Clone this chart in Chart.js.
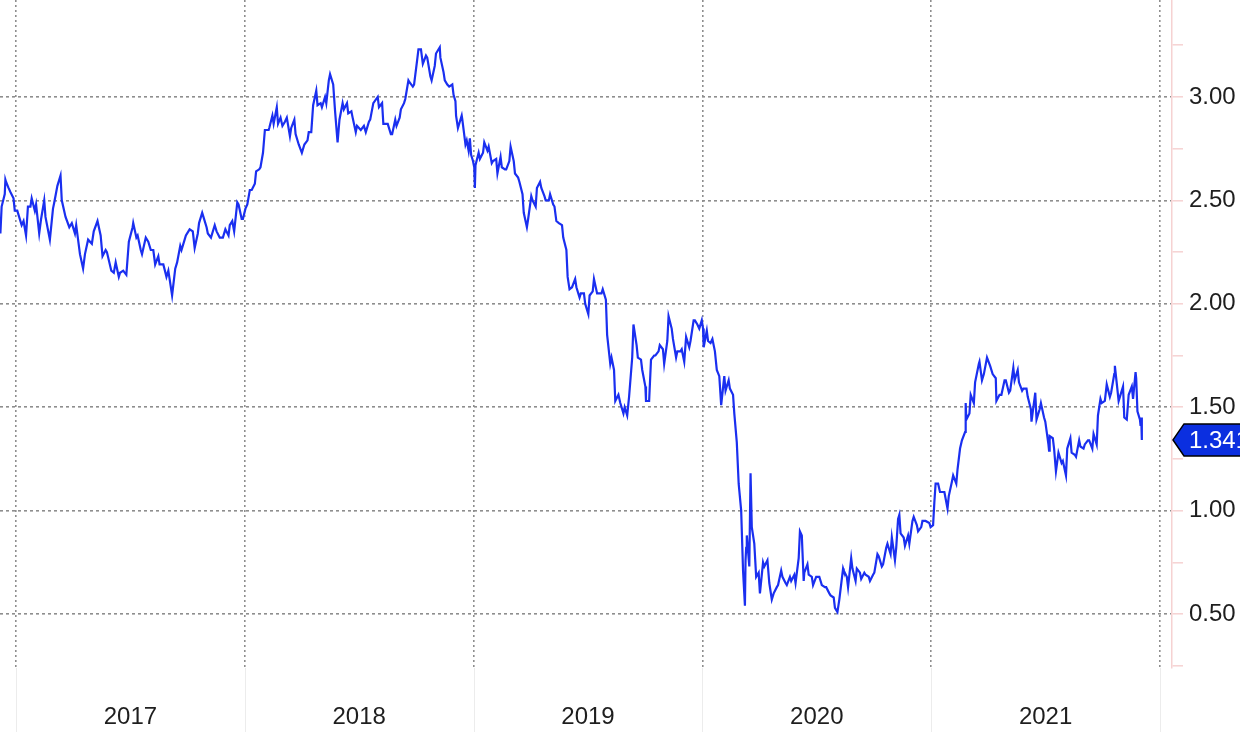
<!DOCTYPE html>
<html>
<head>
<meta charset="utf-8">
<script src="https://cdn.jsdelivr.net/npm/chart.js@4.4.1/dist/chart.umd.min.js"></script>
<style>
html,body{margin:0;padding:0;background:#fff;}
canvas{display:block;}
</style>
</head>
<body>
<canvas id="c" width="1240" height="732"></canvas>
<script>
// ---- DATA: US 10-year yield, [month, day, value] per calendar year ----
const d2016 = [[12,5,2.39],[12,7,2.34],[12,9,2.47],[12,14,2.53],[12,15,2.60],[12,16,2.59],[12,20,2.56],[12,23,2.54],[12,28,2.51],[12,30,2.45]];
const d2017 = [[1,3,2.45],[1,6,2.42],[1,10,2.38],[1,13,2.40],[1,17,2.33],[1,20,2.47],[1,24,2.47],[1,26,2.51],[1,31,2.45],[2,2,2.48],[2,7,2.34],[2,10,2.41],[2,15,2.50],[2,17,2.42],[2,24,2.31],[3,1,2.46],[3,3,2.49],[3,8,2.57],[3,13,2.62],[3,15,2.50],[3,21,2.42],[3,27,2.37],[3,31,2.39],[4,5,2.34],[4,7,2.38],[4,13,2.24],[4,18,2.17],[4,21,2.24],[4,26,2.31],[5,2,2.29],[5,5,2.35],[5,11,2.40],[5,16,2.33],[5,19,2.23],[5,24,2.26],[5,26,2.25],[6,2,2.16],[6,6,2.15],[6,9,2.20],[6,14,2.13],[6,16,2.15],[6,21,2.16],[6,26,2.14],[6,30,2.30],[7,6,2.37],[7,7,2.39],[7,12,2.32],[7,14,2.33],[7,19,2.26],[7,21,2.24],[7,27,2.32],[7,31,2.30],[8,4,2.26],[8,8,2.26],[8,11,2.19],[8,16,2.23],[8,18,2.19],[8,24,2.19],[8,29,2.13],[9,1,2.16],[9,7,2.04],[9,12,2.17],[9,15,2.20],[9,20,2.28],[9,22,2.26],[9,27,2.31],[9,29,2.33],[10,5,2.36],[10,10,2.35],[10,13,2.27],[10,18,2.34],[10,20,2.39],[10,25,2.44],[10,27,2.42],[11,1,2.37],[11,3,2.34],[11,8,2.32],[11,14,2.38],[11,17,2.35],[11,22,2.32],[11,27,2.32],[12,1,2.36],[12,6,2.33],[12,8,2.38],[12,12,2.40],[12,15,2.35],[12,20,2.49],[12,22,2.48],[12,27,2.41],[12,29,2.41]];
const d2018 = [[1,2,2.46],[1,5,2.48],[1,9,2.55],[1,12,2.55],[1,17,2.58],[1,19,2.64],[1,24,2.65],[1,26,2.66],[1,30,2.73],[2,2,2.84],[2,8,2.84],[2,9,2.85],[2,14,2.91],[2,16,2.87],[2,21,2.95],[2,23,2.87],[2,27,2.90],[3,2,2.86],[3,6,2.88],[3,9,2.90],[3,14,2.81],[3,16,2.85],[3,21,2.89],[3,23,2.82],[3,28,2.77],[4,2,2.73],[4,6,2.77],[4,11,2.79],[4,13,2.83],[4,17,2.83],[4,20,2.96],[4,25,3.03],[4,27,2.96],[5,2,2.97],[5,4,2.95],[5,9,3.00],[5,11,2.97],[5,15,3.08],[5,17,3.11],[5,22,3.06],[5,25,2.93],[5,29,2.78],[6,1,2.89],[6,6,2.97],[6,8,2.94],[6,13,2.97],[6,15,2.92],[6,20,2.93],[6,22,2.90],[6,27,2.83],[6,29,2.86],[7,5,2.84],[7,10,2.86],[7,13,2.83],[7,18,2.88],[7,20,2.89],[7,25,2.97],[8,1,3.00],[8,3,2.95],[8,8,2.97],[8,10,2.87],[8,15,2.87],[8,17,2.87],[8,22,2.82],[8,24,2.82],[8,29,2.89],[8,31,2.86],[9,5,2.90],[9,7,2.94],[9,12,2.97],[9,14,2.99],[9,19,3.08],[9,21,3.07],[9,26,3.05],[9,28,3.06],[10,3,3.18],[10,5,3.23],[10,9,3.23],[10,12,3.16],[10,17,3.20],[10,19,3.19],[10,24,3.10],[10,26,3.08],[10,31,3.15],[11,2,3.21],[11,8,3.24],[11,9,3.19],[11,14,3.12],[11,16,3.08],[11,20,3.06],[11,23,3.05],[11,28,3.06],[11,30,3.01],[12,3,2.98],[12,4,2.91],[12,7,2.85],[12,13,2.91],[12,14,2.89],[12,19,2.77],[12,21,2.79],[12,24,2.74],[12,26,2.80],[12,28,2.72],[12,31,2.69]];
const d2019 = [[1,2,2.66],[1,3,2.56],[1,4,2.67],[1,9,2.73],[1,11,2.70],[1,16,2.73],[1,18,2.78],[1,23,2.74],[1,25,2.76],[1,30,2.68],[2,1,2.69],[2,6,2.70],[2,8,2.63],[2,13,2.71],[2,15,2.66],[2,20,2.65],[2,22,2.65],[2,27,2.69],[3,1,2.76],[3,6,2.69],[3,8,2.63],[3,13,2.61],[3,15,2.59],[3,20,2.53],[3,22,2.44],[3,27,2.37],[3,29,2.41],[4,3,2.52],[4,5,2.50],[4,10,2.47],[4,12,2.56],[4,17,2.59],[4,19,2.56],[4,24,2.52],[4,26,2.50],[5,1,2.50],[5,3,2.53],[5,8,2.48],[5,10,2.47],[5,13,2.40],[5,17,2.39],[5,22,2.38],[5,24,2.32],[5,29,2.26],[5,31,2.13],[6,3,2.07],[6,7,2.08],[6,12,2.12],[6,14,2.08],[6,19,2.03],[6,21,2.05],[6,26,2.05],[6,28,2.00],[7,3,1.95],[7,5,2.04],[7,10,2.06],[7,12,2.12],[7,17,2.05],[7,19,2.05],[7,24,2.05],[7,26,2.07],[7,31,2.02],[8,2,1.85],[8,7,1.71],[8,9,1.74],[8,13,1.68],[8,15,1.53],[8,20,1.56],[8,23,1.52],[8,28,1.47],[8,30,1.50],[9,3,1.46],[9,6,1.55],[9,11,1.74],[9,13,1.90],[9,18,1.80],[9,20,1.74],[9,25,1.73],[9,27,1.68],[10,2,1.60],[10,3,1.53],[10,8,1.53],[10,11,1.73],[10,16,1.75],[10,18,1.75],[10,23,1.77],[10,25,1.80],[10,30,1.78],[11,1,1.71],[11,6,1.82],[11,8,1.94],[11,13,1.88],[11,15,1.83],[11,20,1.74],[11,22,1.77],[11,27,1.77],[11,29,1.78],[12,3,1.72],[12,6,1.84],[12,11,1.79],[12,13,1.82],[12,18,1.92],[12,20,1.92],[12,24,1.90],[12,27,1.88],[12,31,1.92]];
const d2020 = [[1,2,1.88],[1,3,1.79],[1,8,1.87],[1,10,1.82],[1,14,1.81],[1,17,1.83],[1,21,1.77],[1,24,1.68],[1,28,1.65],[1,31,1.51],[2,5,1.65],[2,7,1.58],[2,12,1.63],[2,14,1.59],[2,19,1.56],[2,21,1.47],[2,25,1.33],[2,28,1.13],[3,3,1.00],[3,6,0.71],[3,9,0.54],[3,10,0.76],[3,11,0.82],[3,12,0.88],[3,16,0.73],[3,18,1.18],[3,20,0.92],[3,24,0.84],[3,27,0.68],[3,31,0.70],[4,2,0.60],[4,7,0.75],[4,9,0.73],[4,14,0.76],[4,17,0.65],[4,21,0.57],[4,24,0.60],[4,29,0.63],[5,1,0.64],[5,6,0.71],[5,8,0.68],[5,13,0.65],[5,15,0.64],[5,20,0.68],[5,22,0.66],[5,27,0.69],[5,29,0.65],[6,3,0.77],[6,5,0.90],[6,8,0.88],[6,11,0.66],[6,12,0.70],[6,17,0.74],[6,19,0.69],[6,24,0.68],[6,26,0.64],[7,1,0.68],[7,6,0.68],[7,10,0.64],[7,15,0.63],[7,17,0.63],[7,22,0.60],[7,24,0.59],[7,29,0.58],[7,31,0.53],[8,4,0.51],[8,7,0.57],[8,13,0.72],[8,14,0.71],[8,19,0.68],[8,21,0.63],[8,26,0.77],[8,28,0.72],[9,2,0.66],[9,4,0.72],[9,9,0.70],[9,11,0.67],[9,16,0.70],[9,18,0.69],[9,23,0.68],[9,25,0.66],[9,30,0.69],[10,2,0.70],[10,7,0.79],[10,9,0.78],[10,14,0.73],[10,16,0.74],[10,21,0.82],[10,23,0.84],[10,28,0.79],[10,30,0.87],[11,4,0.76],[11,6,0.82],[11,9,0.96],[11,11,0.98],[11,13,0.89],[11,18,0.87],[11,20,0.83],[11,25,0.88],[11,27,0.84],[12,2,0.95],[12,4,0.97],[12,9,0.93],[12,11,0.90],[12,16,0.92],[12,18,0.95],[12,23,0.95],[12,29,0.94],[12,31,0.92]];
const d2021 = [[1,4,0.93],[1,6,1.04],[1,8,1.13],[1,12,1.13],[1,15,1.09],[1,20,1.09],[1,22,1.09],[1,27,1.01],[1,29,1.07],[2,3,1.14],[2,5,1.17],[2,10,1.13],[2,12,1.20],[2,16,1.30],[2,19,1.34],[2,24,1.38],[2,25,1.52],[2,26,1.44],[3,3,1.47],[3,5,1.56],[3,10,1.52],[3,12,1.62],[3,18,1.71],[3,19,1.72],[3,23,1.63],[3,26,1.66],[3,31,1.74],[4,5,1.70],[4,9,1.66],[4,14,1.64],[4,15,1.53],[4,20,1.56],[4,23,1.56],[4,28,1.63],[4,30,1.63],[5,5,1.57],[5,7,1.58],[5,12,1.69],[5,14,1.63],[5,19,1.68],[5,21,1.62],[5,26,1.58],[5,28,1.59],[6,2,1.59],[6,4,1.55],[6,9,1.49],[6,10,1.43],[6,16,1.57],[6,18,1.44],[6,23,1.49],[6,25,1.52],[6,30,1.45],[7,2,1.43],[7,7,1.32],[7,8,1.29],[7,9,1.36],[7,14,1.35],[7,16,1.30],[7,19,1.19],[7,23,1.28],[7,28,1.23],[7,30,1.24],[8,4,1.17],[8,6,1.30],[8,11,1.35],[8,13,1.28],[8,18,1.27],[8,20,1.26],[8,25,1.34],[8,27,1.31],[9,1,1.30],[9,3,1.32],[9,8,1.34],[9,10,1.34],[9,15,1.30],[9,17,1.37],[9,22,1.32],[9,24,1.46],[9,28,1.54],[9,30,1.52],[10,5,1.53],[10,8,1.61],[10,13,1.55],[10,15,1.57],[10,20,1.66],[10,21,1.70],[10,27,1.53],[10,29,1.55],[11,3,1.60],[11,5,1.45],[11,9,1.44],[11,12,1.56],[11,17,1.60],[11,19,1.54],[11,23,1.67],[11,24,1.64],[11,26,1.48],[11,30,1.44],[12,1,1.41],[12,2,1.45],[12,3,1.3417]];

const yearBlocks = [[2016,d2016],[2017,d2017],[2018,d2018],[2019,d2019],[2020,d2020],[2021,d2021]];

// axis categories / tick labels
const yearLabels = ['2017','2018','2019','2020','2021'];
const yearBoundaries = [2017,2018,2019,2020,2021,2022];
const yTickValues = [0.25,0.50,0.75,1.00,1.25,1.50,1.75,2.00,2.25,2.50,2.75,3.00,3.25];
const yLabelled = [0.50,1.00,1.50,2.00,2.50,3.00];
const xRange = [2016.930, 2022.0524];
const yRange = [0.2391, 3.4686];

// ---- build points ----
function fracYear(y,m,d){
  const s = Date.UTC(y,0,1), e = Date.UTC(y+1,0,1);
  return y + (Date.UTC(y,m-1,d) - s) / (e - s);
}
const points = [];
yearBlocks.forEach(([yr,arr]) => arr.forEach(([m,d,v]) => points.push({x: fracYear(yr,m,d), y: v})));

const GRID = '#8e8e8e';
const PINK = '#f6d2d2';
const FONT = "'Liberation Sans', Arial, sans-serif";

const isInt = v => Math.abs(v - Math.round(v)) < 1e-6;
const isLabelled = v => yLabelled.some(t => Math.abs(t - v) < 1e-6);
function zeroPad(scale){
  scale.paddingLeft = 0; scale.paddingRight = 0; scale.paddingTop = 0; scale.paddingBottom = 0;
}

const extras = {
  id: 'extras',
  beforeDraw(chart){
    const {ctx, scales:{x}, chartArea} = chart;
    ctx.save();
    ctx.strokeStyle = '#ececec';
    ctx.lineWidth = 1;
    yearBoundaries.forEach(b => {
      const px = Math.round(x.getPixelForValue(b)) + 0.5;
      ctx.beginPath(); ctx.moveTo(px, chartArea.bottom); ctx.lineTo(px, chart.height); ctx.stroke();
    });
    ctx.restore();
  },
  afterDraw(chart){
    const {ctx, scales:{y}} = chart;
    const last = points[points.length-1].y;
    const py = y.getPixelForValue(last);
    const x0 = chart.chartArea.right + 1;
    const h = 16;
    ctx.save();
    ctx.beginPath();
    ctx.moveTo(x0, py);
    ctx.lineTo(x0 + 11, py - h);
    ctx.lineTo(chart.width + 5, py - h);
    ctx.lineTo(chart.width + 5, py + h);
    ctx.lineTo(x0 + 11, py + h);
    ctx.closePath();
    ctx.fillStyle = '#0b2fe0';
    ctx.fill();
    ctx.lineWidth = 1.5;
    ctx.strokeStyle = '#000';
    ctx.stroke();
    ctx.fillStyle = '#ffffff';
    ctx.font = '24px ' + FONT;
    ctx.textBaseline = 'middle';
    ctx.textAlign = 'left';
    ctx.fillText(last.toFixed(4), x0 + 16, py + 1);
    ctx.restore();
  }
};

new Chart(document.getElementById('c'), {
  type: 'line',
  data: {
    datasets: [{
      data: points,
      borderColor: '#1a2ff0',
      borderWidth: 2.2,
      pointRadius: 0,
      tension: 0,
      fill: false
    }]
  },
  options: {
    responsive: false,
    animation: false,
    devicePixelRatio: 1,
    layout: { padding: 0 },
    plugins: { legend: {display:false}, tooltip: {enabled:false}, title:{display:false} },
    scales: {
      x: {
        type: 'linear',
        position: 'bottom',
        min: xRange[0],
        max: xRange[1],
        afterBuildTicks(scale){
          const t = [];
          yearBoundaries.forEach((b,i) => {
            t.push({value: b});
            if (i < yearLabels.length) t.push({value: b + 0.5});
          });
          scale.ticks = t;
        },
        afterFit(scale){ scale.height = 64; zeroPad(scale); },
        grid: {
          drawTicks: false,
          lineWidth: 1.6,
          color: c => (c.tick && isInt(c.tick.value)) ? GRID : 'rgba(0,0,0,0)'
        },
        border: { display: false, dash: [2,3] },
        ticks: {
          autoSkip: false,
          maxRotation: 0,
          padding: 35,
          color: '#1e1e1e',
          font: { family: FONT, size: 24 },
          callback: v => isInt(v) ? '' : yearLabels[Math.floor(v) - 2017]
        }
      },
      y: {
        type: 'linear',
        position: 'right',
        min: yRange[0],
        max: yRange[1],
        afterBuildTicks(scale){ scale.ticks = yTickValues.map(v => ({value: v})); },
        afterFit(scale){ scale.width = 68; zeroPad(scale); },
        grid: {
          drawTicks: true,
          tickLength: 11,
          tickColor: PINK,
          tickWidth: 1.5,
          lineWidth: 1.6,
          color: c => (c.tick && isLabelled(c.tick.value)) ? GRID : 'rgba(0,0,0,0)'
        },
        border: { display: true, color: PINK, width: 1.5, dash: [3,3] },
        ticks: {
          padding: 6,
          color: '#1e1e1e',
          font: { family: FONT, size: 24 },
          callback: v => isLabelled(v) ? v.toFixed(2) : ''
        }
      }
    }
  },
  plugins: [extras]
});
</script>
</body>
</html>
